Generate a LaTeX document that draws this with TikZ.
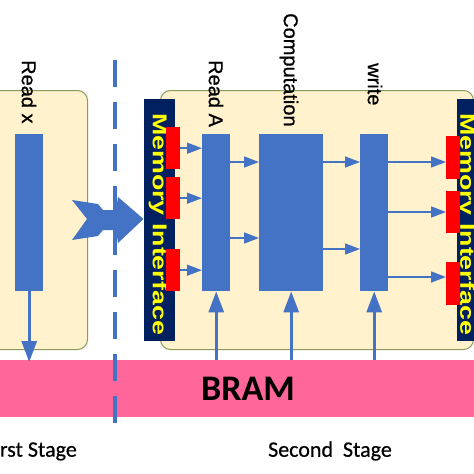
\documentclass[tikz,border=0pt]{standalone}
\usepackage{fontspec}
\setmainfont{Liberation Sans}
\newfontfamily\calfont{Carlito}
\newfontfamily\labfont[FakeBold=0.8]{Liberation Sans}
\newfontfamily\stagefont[FakeBold=0.6]{Carlito}
\usetikzlibrary{arrows.meta}
\definecolor{barblue}{HTML}{4472C4}
\definecolor{panelfill}{HTML}{FFF2CC}
\definecolor{panelline}{HTML}{8A9A5B}
\definecolor{navyblue}{HTML}{002060}
\definecolor{brampink}{HTML}{FF6699}
\definecolor{redport}{HTML}{FF0000}
\definecolor{miyellow}{HTML}{FFFF00}
\begin{document}
\begin{tikzpicture}[x=1pt,y=-1pt,
  panel/.style={draw=panelline, line width=1pt, fill=panelfill, rounded corners=10pt, inner sep=0, anchor=north west},
  bar/.style={fill=barblue, inner sep=0, anchor=north west, minimum height=157pt},
  navybox/.style={fill=navyblue, inner sep=0, anchor=north west, minimum width=31pt, minimum height=242pt},
  port/.style={fill=redport, inner sep=0, anchor=north west, minimum width=14pt, minimum height=42pt},
  mitext/.style={rotate=-90, inner sep=0, text=miyellow, font=\fontsize{20}{24}\selectfont\bfseries},
  steplabel/.style={rotate=-90, inner sep=0, anchor=west, font=\labfont\fontsize{20}{24}\selectfont},
  stagelabel/.style={inner sep=0, font=\stagefont\fontsize{22}{26}\selectfont},
  bigarrow/.style={draw=barblue, line width=3pt, -{Triangle[length=21pt,width=15pt]}},
  smallarrow/.style={draw=barblue, line width=1.5pt, -{Triangle[length=15pt,width=11pt]}},
  dashline/.style={draw=barblue, line width=3.5pt, dash pattern=on 27pt off 15pt}
]
\useasboundingbox (0,0) rectangle (474,474);
% panels
\node[panel, minimum width=117pt, minimum height=259pt] (p1) at (-30,90) {};
\node[panel, minimum width=313pt, minimum height=259pt] (p2) at (160,90) {};
% BRAM
\node[fill=brampink, inner sep=0, anchor=north west, minimum width=490pt, minimum height=57pt] (bram) at (-8,360) {};
\node[inner sep=0, font=\calfont\bfseries\fontsize{36}{40}\selectfont] (bramtext) at (248,389) {BRAM};
% dashed divider
\coordinate (dtop) at (115,60);
\coordinate (dbot) at (115,434);
\draw[dashline] (dtop) -- (dbot);
% chevron arrow
\fill[barblue] (72,200) -- (98,204) -- (103,210) -- (116,210) -- (118,197) -- (143.5,219) -- (118,243) -- (116,230) -- (103,230) -- (98,236) -- (72,240) -- (87,219) -- cycle;
% memory interfaces
\node[navybox] (mil) at (144,99) {};
\node[navybox] (mir) at (457,99) {};
\node[mitext] (milt) at (158,224) {\scalebox{1.34}[1]{Memory Interface}};
\node[mitext] (mirt) at (465.5,224) {\scalebox{1.34}[1]{Memory Interface}};
% ports
\node[port] (rl1) at (166,127) {};
\node[port] (rl2) at (166,177) {};
\node[port] (rl3) at (166,249) {};
\node[port, minimum height=43pt] (rr1) at (446,136) {};
\node[port] (rr2) at (446,191) {};
\node[port, minimum height=43pt] (rr3) at (446,262) {};
% bars
\node[bar, minimum width=28pt] (readx) at (15,134) {};
\node[bar, minimum width=28pt] (reada) at (202,134) {};
\node[bar, minimum width=64pt] (comp) at (259,134) {};
\node[bar, minimum width=28pt] (wr) at (360,134) {};
% labels
\node[steplabel] (lreadx) at (29,60) {Read x};
\node[steplabel] (lreada) at (216,60) {Read A};
\node[steplabel] (lcomp) at (289,13) {Computation};
\node[steplabel] (lwrite) at (375,63) {write};
% stage labels
\node[stagelabel, anchor=east] (s1) at (77,451) {First Stage};
\node[stagelabel] (s2) at (330,451) {Second\ \ Stage};
% small arrows
\draw[smallarrow] (rl1.east) -- (reada.west |- rl1.east);
\draw[smallarrow] (rl2.east) -- (reada.west |- rl2.east);
\draw[smallarrow] (rl3.east) -- (reada.west |- rl3.east);
\coordinate (a1) at (230,162);
\coordinate (a2) at (230,238);
\draw[smallarrow] (a1) -- (comp.west |- a1);
\draw[smallarrow] (a2) -- (comp.west |- a2);
\coordinate (c1) at (323,162);
\coordinate (c2) at (323,249);
\draw[smallarrow] (c1) -- (wr.west |- c1);
\draw[smallarrow] (c2) -- (wr.west |- c2);
\coordinate (w1) at (388,162);
\coordinate (w2) at (388,212);
\coordinate (w3) at (388,277);
\draw[smallarrow] (w1) -- (rr1.west |- w1);
\draw[smallarrow] (w2) -- (rr2.west |- w2);
\draw[smallarrow] (w3) -- (rr3.west |- w3);
% big arrows
\draw[bigarrow] (readx.south) -- ([yshift=-2pt]readx.south |- bram.north);
\draw[bigarrow] (reada.south |- bram.north) -- (reada.south);
\draw[bigarrow] (bram.north -| comp.south) -- (comp.south);
\draw[bigarrow] (bram.north -| wr.south) -- (wr.south);
\end{tikzpicture}
\end{document}
